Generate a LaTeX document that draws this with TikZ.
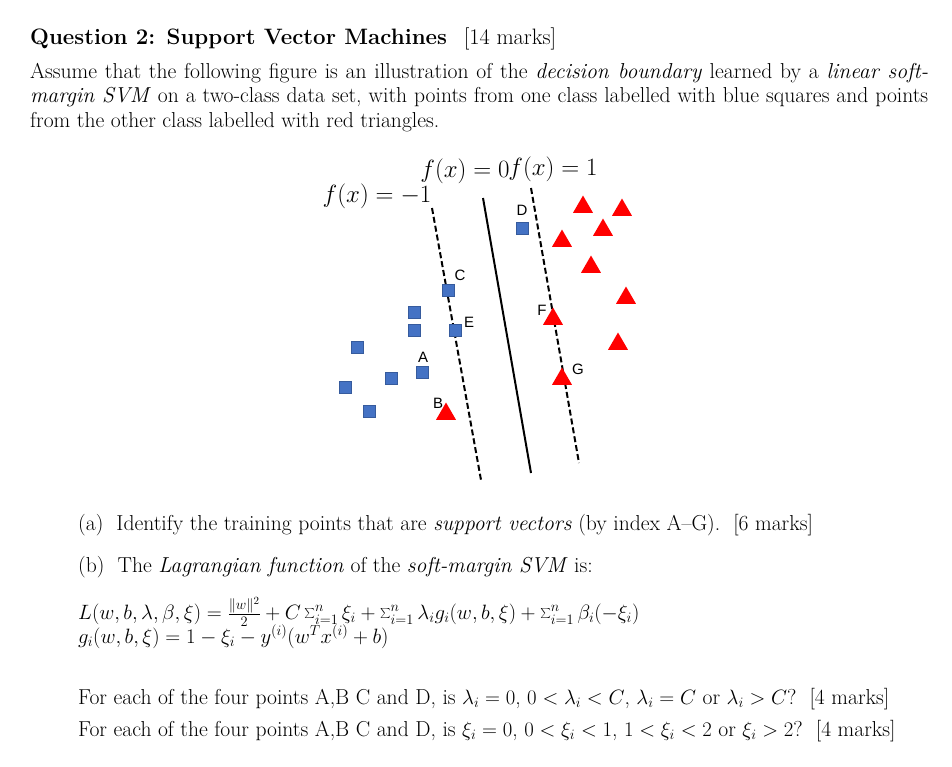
\documentclass[tikz,border=0pt]{standalone}
\usepackage{fontspec}
\newfontfamily\arial{Liberation Sans}
\usetikzlibrary{shapes.geometric}
\definecolor{sqblue}{HTML}{4472C4}
\begin{document}
\begin{tikzpicture}[x=1pt,y=-1pt,
  txt/.style={anchor=base west,inner sep=0pt,font=\fontsize{21.6}{24.5}\selectfont},
  sq/.style={fill=sqblue,draw=sqblue!80!black,line width=0.5pt,minimum size=11.5pt,inner sep=0pt},
  tri/.style={regular polygon,regular polygon sides=3,fill=red,minimum size=23pt,inner sep=0pt},
  lbl/.style={inner sep=0pt,font=\arial\fontsize{15}{15}\selectfont},
  fl/.style={inner sep=0pt,font=\fontsize{23}{23}\selectfont},
  mline/.style={line width=2pt},
  dline/.style={line width=2pt,dash pattern=on 6pt off 3pt}]
\useasboundingbox (0,0) rectangle (952,766);
\node[txt,font=\bfseries\fontsize{22.3}{24}\selectfont] (title) at (30,44) {Question 2: Support Vector Machines\ \ \mdseries[14 marks]};
\node[txt,anchor=north west,text width=898pt,align=justify] (para) at (30,63) {Assume that the following figure is an illustration of the \emph{decision boundary} learned by a \emph{linear soft-margin SVM} on a two-class data set, with points from one class labelled with blue squares and points from the other class labelled with red triangles.};
% figure lines
\coordinate (l1a) at (432,208); \coordinate (l1b) at (481,480);
\coordinate (l0a) at (483,198); \coordinate (l0b) at (531,473);
\coordinate (l2a) at (531,188); \coordinate (l2b) at (579,463);
\draw[dline] (l1a) -- (l1b);
\draw[mline] (l0a) -- (l0b);
\draw[dline] (l2a) -- (l2b);
\node[fl] (fm) at (377,196) {$f(x)=-1$};
\node[fl] (f0) at (465,171) {$f(x)=0$};
\node[fl] (f1) at (553,169) {$f(x)=1$};
% squares
\node[sq] (D) at (522,228) {};
\node[sq] (C) at (448,290) {};
\node[sq] (E) at (455,330) {};
\node[sq] (s1) at (414,312) {};
\node[sq] (s2) at (414,330) {};
\node[sq] (s3) at (357,347) {};
\node[sq] (A) at (422,372) {};
\node[sq] (s4) at (391,378) {};
\node[sq] (s5) at (345,387) {};
\node[sq] (s6) at (369,411) {};
% triangles
\node[tri] (t1) at (583,207) {};
\node[tri] (t2) at (622,210) {};
\node[tri] (t3) at (603,230) {};
\node[tri] (t4) at (562,241) {};
\node[tri] (t5) at (591,267) {};
\node[tri] (t6) at (626,298) {};
\node[tri] (t7) at (618,344) {};
\node[tri] (F) at (553,319) {};
\node[tri] (G) at (562,379) {};
\node[tri] (B) at (446,414) {};
% labels
\node[lbl] (lD) at (522,210) {D};
\node[lbl] (lC) at (460,275) {C};
\node[lbl] (lE) at (469,322) {E};
\node[lbl] (lA) at (423,357) {A};
\node[lbl] (lB) at (438,403) {B};
\node[lbl] (lF) at (542,310) {F};
\node[lbl] (lG) at (578,369) {G};
% questions
\node[txt] (qa) at (78,530) {(a)\ \ Identify the training points that are \emph{support vectors} (by index A--G).\ \ [6 marks]};
\node[txt] (qb) at (78,572) {(b)\ \ The \emph{Lagrangian function} of the \emph{soft-margin SVM} is:};
\node[txt] (eq1) at (78,619) {$L(w,b,\lambda,\beta,\xi)=\frac{\|w\|^2}{2}+C\sum_{i=1}^{n}\xi_i+\sum_{i=1}^{n}\lambda_i g_i(w,b,\xi)+\sum_{i=1}^{n}\beta_i(-\xi_i)$};
\node[txt] (eq2) at (78,643) {$g_i(w,b,\xi)=1-\xi_i-y^{(i)}(w^Tx^{(i)}+b)$};
\node[txt] (q1) at (78,704) {For each of the four points A,B C and D, is $\lambda_i=0$, $0<\lambda_i<C$, $\lambda_i=C$ or $\lambda_i>C$?\ \ [4 marks]};
\node[txt] (q2) at (78,736) {For each of the four points A,B C and D, is $\xi_i=0$, $0<\xi_i<1$, $1<\xi_i<2$ or $\xi_i>2$?\ \ [4 marks]};
\end{tikzpicture}
\end{document}
